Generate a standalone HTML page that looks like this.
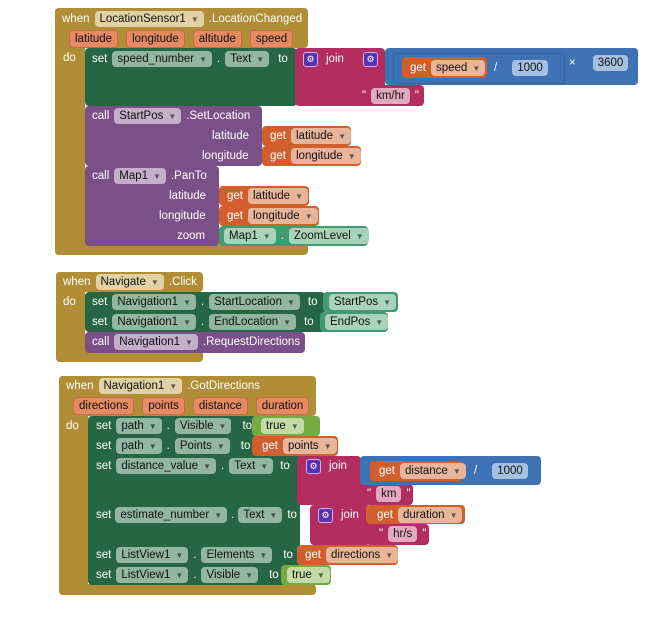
<!DOCTYPE html>
<html><head><meta charset="utf-8"><style>
body{margin:0;width:672px;height:624px;background:#fff;position:relative;overflow:hidden;font-family:"Liberation Sans",sans-serif}
.b{position:absolute;border-radius:4px}
.r{position:absolute;display:flex;align-items:center;gap:5px;color:#fff;font-size:11.5px;white-space:nowrap;height:18px}
.f{border-radius:4px;padding:1px 5px;color:#111;height:14px;line-height:14px}
.f i{font-style:normal;font-size:8px;margin-left:5px;opacity:.6}
.ev{background:#b18e35}.ef{background:#e1d1a5}
.p{background:#e58a62;border:1px solid #c36c47;color:#111}
.sg{background:#266643}.gf{background:#93b6a0}
.pu{background:#7b5088}.pf{background:#c4aec9}
.og{background:#d05f2d}.of{background:#e8b49a}
.jm{background:#b32d5e}.mf{background:#e3a9be}
.bl{background:#3f71b5}.bf{background:#a6c0e3}
.tl{background:#439970}.tf{background:#a7d3bb}
.lg{background:#77ab41}.lf{background:#c3dca5}
.gear{display:inline-block;width:13px;height:13px;background:#5b2fb0;border:1px solid #c9b6f0;border-radius:3px;color:#fff;font-size:9px;text-align:center;line-height:13px}
</style></head><body>
<!-- Block 1 -->
<div class="b ev" style="left:55px;top:8px;width:253px;height:40px"></div>
<div class="b ev" style="left:55px;top:8px;width:30px;height:247px"></div>
<div class="b ev" style="left:55px;top:242px;width:253px;height:13px"></div>
<div class="r" style="left:62px;top:10px"><b style="font-weight:normal">when</b><span class="f ef">LocationSensor1<i>▼</i></span><span>.LocationChanged</span></div>
<div class="r" style="left:69px;top:30px;gap:8px"><span class="f p">latitude</span><span class="f p">longitude</span><span class="f p">altitude</span><span class="f p">speed</span></div>
<div class="r" style="left:63px;top:49px">do</div>
<div class="b sg" style="left:85px;top:48px;width:212px;height:58px"></div>
<div class="b jm" style="left:295px;top:48px;width:90px;height:58px"></div>
<div class="b jm" style="left:350px;top:85px;width:74px;height:21px"></div>
<div class="b bl" style="left:385px;top:48px;width:253px;height:37px"></div>
<div class="b" style="left:393px;top:53px;width:170px;height:29px;border:1px solid #3565a5;background:#3f71b5"></div>
<div class="b og" style="left:402px;top:57px;width:85px;height:21px"></div>
<div class="r" style="left:92px;top:50px"><span>set</span><span class="f gf">speed_number<i>▼</i></span><span>.</span><span class="f gf">Text<i>▼</i></span><span style="margin-left:4px">to</span></div>
<div class="r" style="left:303px;top:50px"><span class="gear">⚙</span><span style="margin-left:3px">join</span></div>
<div class="r" style="left:363px;top:50px"><span class="gear">⚙</span></div>
<div class="r" style="left:410px;top:59px"><span>get</span><span class="f of">speed<i>▼</i></span></div>
<div class="r" style="left:494px;top:59px"><span>/</span><span class="f bf" style="margin-left:10px">1000</span></div>
<div class="r" style="left:569px;top:54px"><span>×</span><span class="f bf" style="margin-left:12px">3600</span></div>
<div class="r" style="left:362px;top:87px"><span>"</span><span class="f mf">km/hr</span><span>"</span></div>
<div class="b pu" style="left:85px;top:106px;width:177px;height:60px"></div>
<div class="b og" style="left:262px;top:126px;width:89px;height:20px"></div>
<div class="b og" style="left:262px;top:146px;width:99px;height:20px"></div>
<div class="r" style="left:92px;top:107px"><span>call</span><span class="f pf">StartPos<i>▼</i></span><span>.SetLocation</span></div>
<div class="r" style="left:212px;top:127px">latitude</div>
<div class="r" style="left:202px;top:147px">longitude</div>
<div class="r" style="left:270px;top:127px"><span>get</span><span class="f of">latitude<i>▼</i></span></div>
<div class="r" style="left:270px;top:147px"><span>get</span><span class="f of">longitude<i>▼</i></span></div>
<div class="b pu" style="left:85px;top:166px;width:134px;height:80px"></div>
<div class="b og" style="left:219px;top:186px;width:90px;height:20px"></div>
<div class="b og" style="left:219px;top:206px;width:100px;height:20px"></div>
<div class="b tl" style="left:219px;top:226px;width:149px;height:20px"></div>
<div class="r" style="left:92px;top:167px"><span>call</span><span class="f pf">Map1<i>▼</i></span><span>.PanTo</span></div>
<div class="r" style="left:169px;top:187px">latitude</div>
<div class="r" style="left:159px;top:207px">longitude</div>
<div class="r" style="left:177px;top:227px">zoom</div>
<div class="r" style="left:227px;top:187px"><span>get</span><span class="f of">latitude<i>▼</i></span></div>
<div class="r" style="left:227px;top:207px"><span>get</span><span class="f of">longitude<i>▼</i></span></div>
<div class="r" style="left:224px;top:227px"><span class="f tf">Map1<i>▼</i></span><span>.</span><span class="f tf">ZoomLevel<i>▼</i></span></div>
<!-- Block 2 -->
<div class="b ev" style="left:56px;top:272px;width:147px;height:20px"></div>
<div class="b ev" style="left:56px;top:272px;width:29px;height:90px"></div>
<div class="b ev" style="left:56px;top:350px;width:147px;height:12px"></div>
<div class="r" style="left:63px;top:273px"><span>when</span><span class="f ef">Navigate<i>▼</i></span><span>.Click</span></div>
<div class="r" style="left:63px;top:293px">do</div>
<div class="b sg" style="left:85px;top:292px;width:240px;height:40px"></div>
<div class="b tl" style="left:323px;top:292px;width:75px;height:20px"></div>
<div class="b tl" style="left:320px;top:312px;width:68px;height:20px"></div>
<div class="r" style="left:92px;top:293px"><span>set</span><span class="f gf">Navigation1<i>▼</i></span><span>.</span><span class="f gf">StartLocation<i>▼</i></span><span style="margin-left:3px">to</span></div>
<div class="r" style="left:329px;top:293px"><span class="f tf">StartPos<i>▼</i></span></div>
<div class="r" style="left:92px;top:313px"><span>set</span><span class="f gf">Navigation1<i>▼</i></span><span>.</span><span class="f gf">EndLocation<i>▼</i></span><span style="margin-left:3px">to</span></div>
<div class="r" style="left:325px;top:313px"><span class="f tf">EndPos<i>▼</i></span></div>
<div class="b pu" style="left:85px;top:332px;width:220px;height:21px"></div>
<div class="r" style="left:92px;top:333px"><span>call</span><span class="f pf">Navigation1<i>▼</i></span><span>.RequestDirections</span></div>
<!-- Block 3 -->
<div class="b ev" style="left:59px;top:376px;width:257px;height:40px"></div>
<div class="b ev" style="left:59px;top:376px;width:29px;height:219px"></div>
<div class="b ev" style="left:59px;top:584px;width:257px;height:11px"></div>
<div class="r" style="left:66px;top:377px"><span>when</span><span class="f ef">Navigation1<i>▼</i></span><span>.GotDirections</span></div>
<div class="r" style="left:73px;top:397px;gap:8px"><span class="f p">directions</span><span class="f p">points</span><span class="f p">distance</span><span class="f p">duration</span></div>
<div class="r" style="left:66px;top:417px">do</div>
<div class="b sg" style="left:88px;top:416px;width:212px;height:169px"></div>
<div class="b lg" style="left:252px;top:416px;width:68px;height:20px"></div>
<div class="b og" style="left:252px;top:436px;width:86px;height:20px"></div>
<div class="b jm" style="left:297px;top:456px;width:64px;height:49px"></div>
<div class="b jm" style="left:355px;top:484px;width:58px;height:21px"></div>
<div class="b bl" style="left:360px;top:456px;width:181px;height:29px"></div>
<div class="b og" style="left:370px;top:461px;width:92px;height:20px"></div>
<div class="b jm" style="left:310px;top:505px;width:60px;height:40px"></div>
<div class="b jm" style="left:366px;top:524px;width:63px;height:21px"></div>
<div class="b og" style="left:366px;top:505px;width:99px;height:19px"></div>
<div class="b og" style="left:297px;top:545px;width:101px;height:20px"></div>
<div class="b lg" style="left:281px;top:565px;width:50px;height:20px"></div>
<div class="r" style="left:96px;top:417px"><span>set</span><span class="f gf">path<i>▼</i></span><span>.</span><span class="f gf">Visible<i>▼</i></span><span style="margin-left:6px">to</span></div>
<div class="r" style="left:261px;top:417px"><span class="f lf">true<i>▼</i></span></div>
<div class="r" style="left:96px;top:437px"><span>set</span><span class="f gf">path<i>▼</i></span><span>.</span><span class="f gf">Points<i>▼</i></span><span style="margin-left:6px">to</span></div>
<div class="r" style="left:262px;top:437px"><span>get</span><span class="f of">points<i>▼</i></span></div>
<div class="r" style="left:96px;top:457px"><span>set</span><span class="f gf">distance_value<i>▼</i></span><span>.</span><span class="f gf">Text<i>▼</i></span><span style="margin-left:2px">to</span></div>
<div class="r" style="left:306px;top:457px"><span class="gear">⚙</span><span style="margin-left:3px">join</span></div>
<div class="r" style="left:379px;top:462px"><span>get</span><span class="f of">distance<i>▼</i></span></div>
<div class="r" style="left:474px;top:462px"><span>/</span><span class="f bf" style="margin-left:10px">1000</span></div>
<div class="r" style="left:367px;top:485px"><span>"</span><span class="f mf">km</span><span>"</span></div>
<div class="r" style="left:96px;top:506px;gap:4px"><span>set</span><span class="f gf">estimate_number<i>▼</i></span><span>.</span><span class="f gf">Text<i>▼</i></span><span style="margin-left:1px">to</span></div>
<div class="r" style="left:318px;top:506px"><span class="gear">⚙</span><span style="margin-left:3px">join</span></div>
<div class="r" style="left:377px;top:506px"><span>get</span><span class="f of">duration<i>▼</i></span></div>
<div class="r" style="left:379px;top:525px"><span>"</span><span class="f mf">hr/s</span><span>"</span></div>
<div class="r" style="left:96px;top:546px"><span>set</span><span class="f gf">ListView1<i>▼</i></span><span>.</span><span class="f gf">Elements<i>▼</i></span><span style="margin-left:6px">to</span></div>
<div class="r" style="left:305px;top:546px"><span>get</span><span class="f of">directions<i>▼</i></span></div>
<div class="r" style="left:96px;top:566px"><span>set</span><span class="f gf">ListView1<i>▼</i></span><span>.</span><span class="f gf">Visible<i>▼</i></span><span style="margin-left:6px">to</span></div>
<div class="r" style="left:287px;top:566px"><span class="f lf">true<i>▼</i></span></div>
</body></html>
